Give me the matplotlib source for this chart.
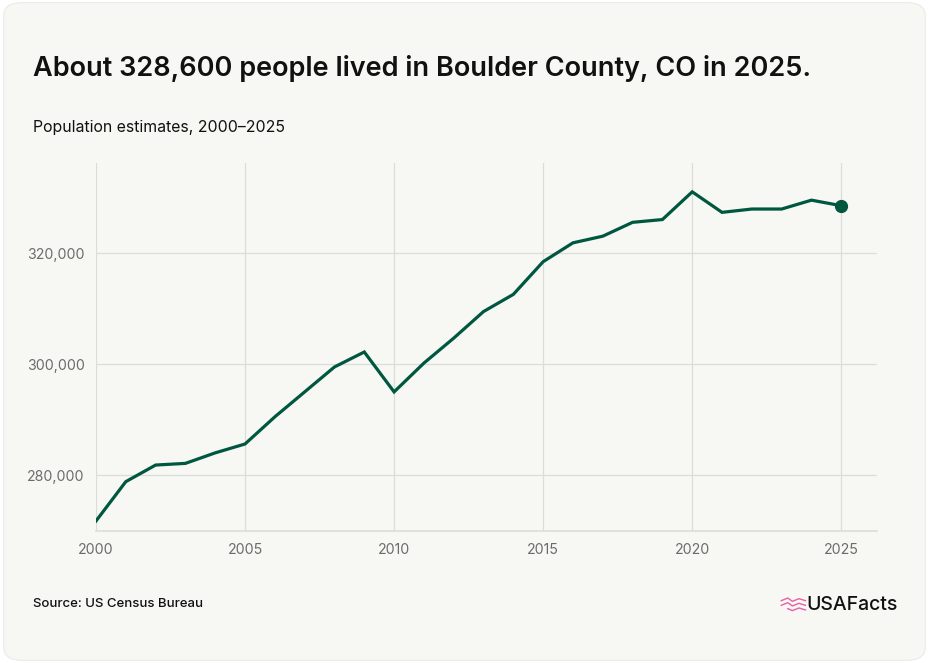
import numpy as np
import matplotlib.pyplot as plt
from matplotlib.patches import FancyBboxPatch
from matplotlib.ticker import FuncFormatter

years = list(range(2000, 2026))
population = [271700, 278800, 281800, 282100, 284000, 285600, 290500, 295000,
              299500, 302200, 295000, 300200, 304700, 309500, 312600, 318500,
              321900, 323100, 325600, 326100, 331100, 327400, 328000, 328000,
              329600, 328600]
y_ticks = [280000, 300000, 320000]
x_ticks = [2000, 2005, 2010, 2015, 2020, 2025]

title = "About 328,600 people lived in Boulder County, CO in 2025."
subtitle = "Population estimates, 2000\u20132025"
source = "Source: US Census Bureau"

bg = "#f7f7f3"
green = "#00573f"
grid_c = "#dcdcd8"

plt.rcParams['font.family'] = ['Inter', 'DejaVu Sans']

fig = plt.figure(figsize=(9.29, 6.63), dpi=100)
fig.patch.set_facecolor("white")
card = FancyBboxPatch((0.004, 0.004), 0.992, 0.992,
                      boxstyle="round,pad=0,rounding_size=0.02",
                      transform=fig.transFigure, facecolor=bg,
                      edgecolor="#ebebe6", linewidth=0.8, zorder=-10)
fig.patches.append(card)

ax = fig.add_axes([0.1033, 0.1991, 0.8408, 0.555])
ax.set_facecolor(bg)
ax.plot(years, population, color=green, linewidth=2.3, solid_joinstyle='miter', zorder=3)
ax.plot(years[-1], population[-1], 'o', color=green, markersize=8.5, zorder=4)

ax.set_xlim(2000, 2026.2)
ax.set_ylim(269900, 336300)
ax.set_xticks(x_ticks)
ax.set_yticks(y_ticks)
ax.yaxis.set_major_formatter(FuncFormatter(lambda v, p: f"{int(v):,}"))
ax.grid(True, color=grid_c, linewidth=0.9)
ax.set_axisbelow(True)
for s in ['top', 'right', 'left']:
    ax.spines[s].set_visible(False)
ax.spines['bottom'].set_color(grid_c)
ax.spines['bottom'].set_linewidth(1.2)
ax.tick_params(length=0, labelsize=10.2, labelcolor="#6b6b6b")
ax.tick_params(axis='x', pad=9)
ax.tick_params(axis='y', pad=8)

fig.text(0.035, 0.897, title, fontsize=19.5, fontweight='semibold', color="#111111",
         va='center', ha='left')
fig.text(0.035, 0.807, subtitle, fontsize=11.4, color="#111111", va='center', ha='left')
fig.text(0.035, 0.089, source, fontsize=9.5, fontweight='medium', color="#111111",
         va='center', ha='left')
fig.text(0.966, 0.088, "USAFacts", fontsize=14, fontweight='medium', color="#111111",
         va='center', ha='right')
# small pink logo mark
lx = np.array([0.841, 0.848, 0.853, 0.860, 0.867])
fig.lines.append(plt.Line2D(lx, [0.094, 0.098, 0.093, 0.097, 0.094], transform=fig.transFigure, color="#e85fa8", lw=1))
fig.lines.append(plt.Line2D(lx, [0.087, 0.091, 0.086, 0.090, 0.087], transform=fig.transFigure, color="#e85fa8", lw=1))
fig.lines.append(plt.Line2D(lx[1:], [0.082, 0.079, 0.083, 0.080], transform=fig.transFigure, color="#e85fa8", lw=1))

fig.savefig("out.png", dpi=100, facecolor=fig.get_facecolor())
